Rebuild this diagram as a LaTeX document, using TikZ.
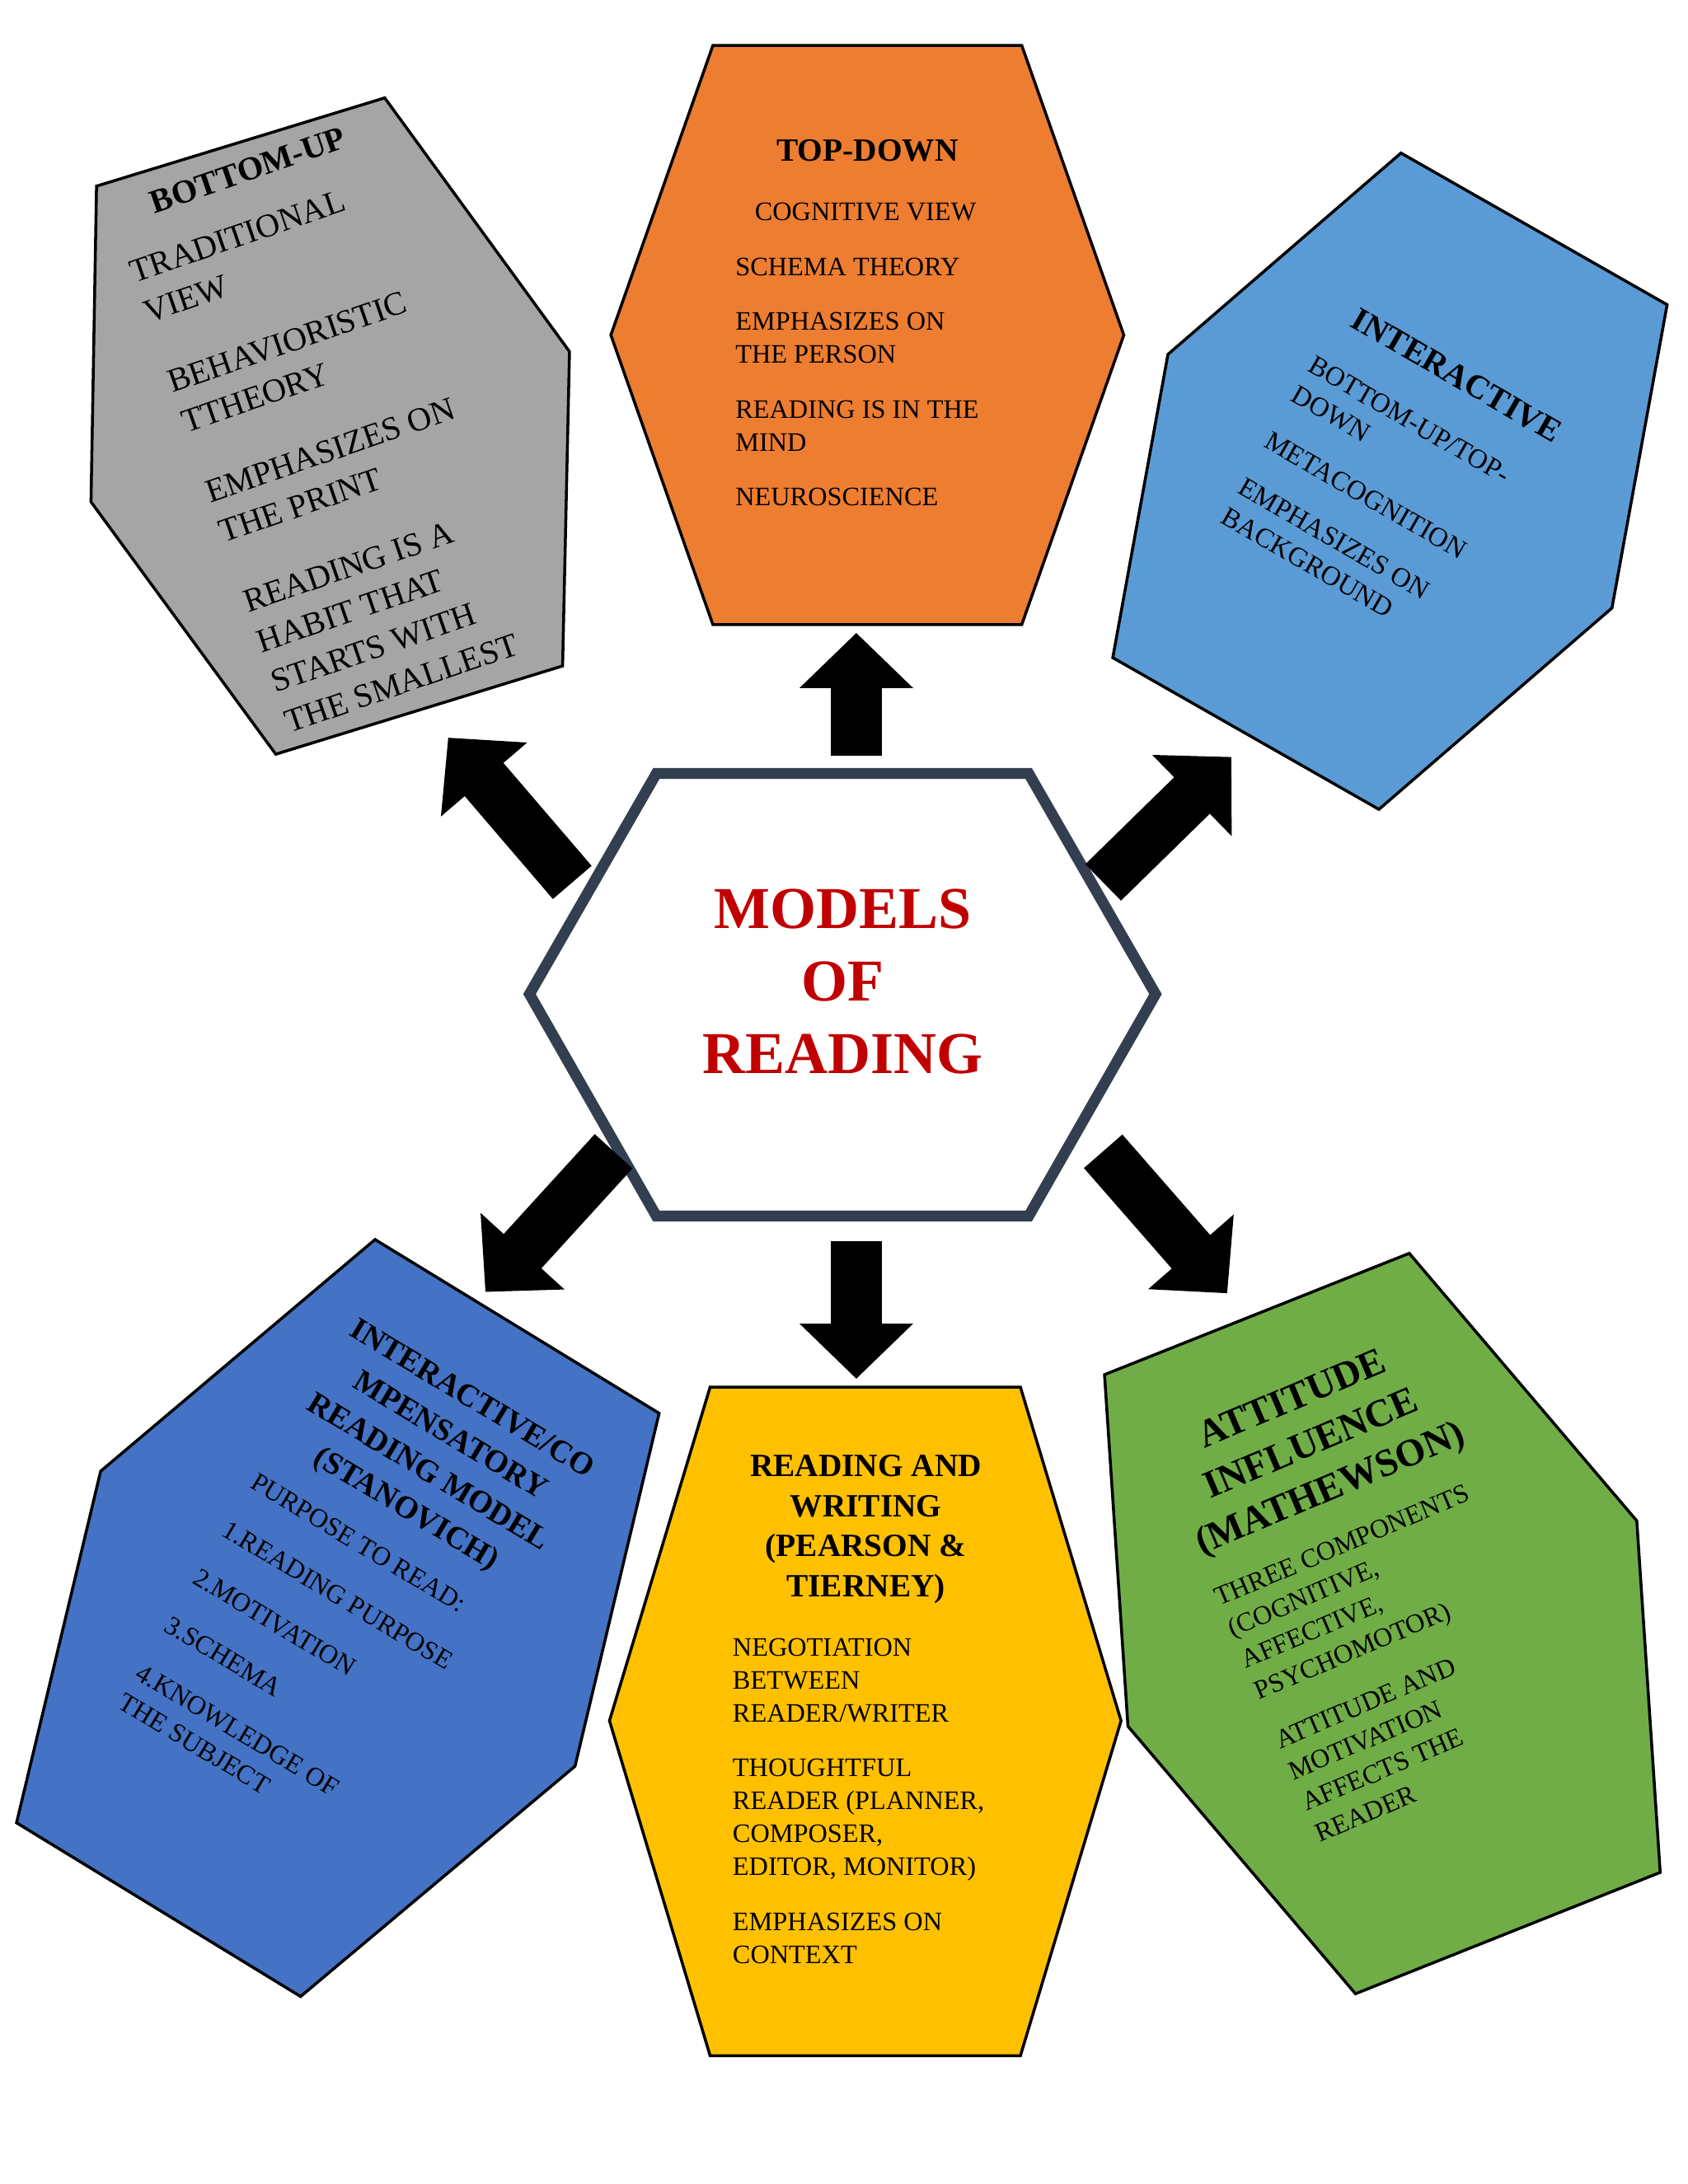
\documentclass[tikz,border=0pt]{standalone}
\usepackage{fontspec}
\setmainfont{Liberation Serif}
\usetikzlibrary{arrows.meta}
\definecolor{cgray}{HTML}{A5A5A5}
\definecolor{corange}{HTML}{ED7D31}
\definecolor{cblue}{HTML}{5B9BD5}
\definecolor{cdblue}{HTML}{4472C4}
\definecolor{cyellow}{HTML}{FFC000}
\definecolor{cgreen}{HTML}{70AD47}
\definecolor{cslate}{HTML}{333F50}
\definecolor{cred}{HTML}{C00000}
\tikzset{
 hexa/.style={draw=black,line width=1.2pt,line join=miter},
 bigarrow/.style={line width=0.74cm,-{Triangle[length=0.8cm,width=1.6cm]}},
 txt/.style={inner sep=0pt,align=left,font=\fontsize{11}{13.6}\selectfont},
 ttl/.style={inner sep=0pt,align=center,font=\bfseries\fontsize{13.4}{16.5}\selectfont},
}
\begin{document}
\begin{tikzpicture}[x=0.02cm,y=-0.02cm]
\useasboundingbox[fill=white] (0,0) rectangle (1224,1584);
% shapes
\draw[hexa,fill=cgray] (70,135)--(279,71)--(413,255)--(408,483)--(200,547)--(66,364)--cycle;
\draw[hexa,fill=corange] (517,33)--(741,33)--(815,243)--(741,453)--(517,453)--(443,243)--cycle;
\draw[hexa,fill=cblue] (847,257)--(1016,111)--(1209,221)--(1169,441)--(1000,587)--(807,477)--cycle;
\draw[hexa,fill=cdblue] (73,1067)--(272,899)--(478,1025)--(417,1281)--(218,1448)--(12,1322)--cycle;
\draw[hexa,fill=cyellow] (515,1006)--(740,1006)--(813,1248)--(740,1491)--(515,1491)--(442,1248)--cycle;
\draw[hexa,fill=cgreen] (801,997)--(1022,909)--(1187,1103)--(1204,1358)--(983,1446)--(818,1252)--cycle;
\draw[draw=cslate,line width=4.5pt,fill=white] (476,561)--(746,561)--(838,721)--(746,882)--(476,882)--(384,721)--cycle;
\node[inner sep=0pt,align=center,text=cred,font=\bfseries\fontsize{24.5}{30}\selectfont] (center) at (611,712) {MODELS\\OF\\READING};
% arrows
\coordinate (a1s) at (621,548); \coordinate (a1e) at (621,459);
\coordinate (a2s) at (415,640); \coordinate (a2e) at (325,535);
\coordinate (a3s) at (800,640); \coordinate (a3e) at (893,549);
\coordinate (a4s) at (445,835); \coordinate (a4e) at (352,937);
\coordinate (a5s) at (621,900); \coordinate (a5e) at (621,1000);
\coordinate (a6s) at (800,835); \coordinate (a6e) at (890,938);
\foreach \i in {1,...,6}{\draw[bigarrow] (a\i s)--(a\i e);}
% gray text
\begin{scope}
\clip (70,135)--(279,71)--(413,255)--(408,483)--(200,547)--(66,364)--cycle;
\node[anchor=base west,inner sep=0pt,rotate=19,font=\bfseries\fontsize{13.7}{17}\selectfont] (bu) at (112,155) {BOTTOM-UP};
\node[anchor=north west,inner sep=0pt,align=left,rotate=19,font=\fontsize{13.7}{17.5}\selectfont] (bub) at (92,190)
{TRADITIONAL\\VIEW\\[13pt]BEHAVIORISTIC\\TTHEORY\\[13pt]EMPHASIZES ON\\THE PRINT\\[13pt]READING IS A\\HABIT THAT\\STARTS WITH\\THE SMALLEST};
\end{scope}
% top-down
\node[ttl,anchor=base] (td) at (629,117) {TOP-DOWN};
\node[txt,anchor=north west] (tdb) at (533,147)
{\hspace*{8pt}COGNITIVE VIEW\\[9pt]SCHEMA THEORY\\[9pt]EMPHASIZES ON\\THE PERSON\\[9pt]READING IS IN THE\\MIND\\[9pt]NEUROSCIENCE};
% interactive
\node[anchor=base west,inner sep=0pt,rotate=-30,font=\bfseries\fontsize{13.8}{17}\selectfont] (it) at (978,236) {INTERACTIVE};
\node[txt,anchor=north west,rotate=-30,font=\fontsize{11.3}{14}\selectfont] (itb) at (954,257)
{BOTTOM-UP/TOP-\\DOWN\\[8pt]METACOGNITION\\[8pt]EMPHASIZES ON\\BACKGROUND};
% bottom-left
\node[anchor=north,inner sep=0pt,align=center,rotate=-31,font=\bfseries\fontsize{13}{17.6}\selectfont] (bl) at (347,1007)
{INTERACTIVE/CO\\MPENSATORY\\READING MODEL\\(STANOVICH)};
\node[txt,anchor=north west,rotate=-31,font=\fontsize{11}{14}\selectfont] (blb) at (187,1067)
{PURPOSE TO READ:\\[9pt]1.READING PURPOSE\\[9pt]2.MOTIVATION\\[9pt]3.SCHEMA\\[9pt]4.KNOWLEDGE OF\\THE SUBJECT};
% yellow
\node[ttl,anchor=north] (rw) at (628,1055) {READING AND\\WRITING\\(PEARSON \&\\TIERNEY)};
\node[txt,anchor=north west] (rwb) at (531,1188)
{NEGOTIATION\\BETWEEN\\READER/WRITER\\[9pt]THOUGHTFUL\\READER (PLANNER,\\COMPOSER,\\EDITOR, MONITOR)\\[9pt]EMPHASIZES ON\\CONTEXT};
% green
\node[anchor=north,inner sep=0pt,align=center,rotate=23,font=\bfseries\fontsize{16}{20}\selectfont] (at) at (933,1005)
{ATTITUDE\\INFLUENCE\\(MATHEWSON)};
\node[txt,anchor=north west,rotate=23,font=\fontsize{11}{14}\selectfont] (atb) at (879,1153)
{THREE COMPONENTS\\(COGNITIVE,\\AFFECTIVE,\\PSYCHOMOTOR)\\[8pt]ATTITUDE AND\\MOTIVATION\\AFFECTS THE\\READER};
\end{tikzpicture}
\end{document}
